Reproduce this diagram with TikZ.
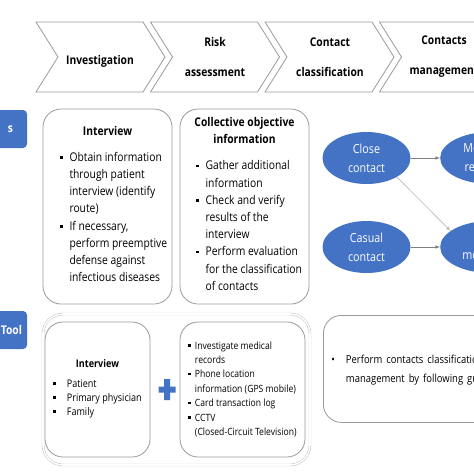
\documentclass[tikz,border=0pt]{standalone}
\usepackage{fontspec}
\setmainfont{Open Sans}[FakeStretch=0.86]
\usetikzlibrary{shapes.geometric}
\definecolor{boxblue}{HTML}{4472C4}
\definecolor{edgegray}{HTML}{9A9A9A}
\newcommand{\sqb}{\raisebox{2.6pt}{\rule{2.6pt}{2.6pt}}}
\begin{document}
\begin{tikzpicture}[x=1pt, y=-1pt,
  chev/.style={draw=edgegray, line width=0.8pt, fill=white},
  chevtext/.style={font=\fontsize{12}{30}\selectfont\bfseries, align=center},
  tag/.style={fill=boxblue, rounded corners=4pt, text=white,
    font=\fontsize{12}{14}\selectfont\bfseries, minimum width=50pt,
    minimum height=38pt, inner sep=0pt, align=right},
  card/.style={draw=edgegray, rounded corners=18pt, line width=0.8pt,
    align=center, font=\fontsize{12}{17.2}\selectfont, inner sep=0pt},
  blob/.style={ellipse, fill=boxblue, text=white, minimum width=88pt,
    minimum height=52pt, align=center, inner sep=0pt,
    font=\fontsize{12.5}{19}\selectfont},
  arr/.style={-latex, draw=gray, line width=0.6pt},
]
\fill[white] (0,0) rectangle (474,474);
\useasboundingbox (0,0) rectangle (474,474);

% steps
\foreach \x in {36, 150.5, 265, 379.5}
  \draw[chev] (\x,22) -- ++(107,0) -- ++(22,35) -- ++(-22,35) -- ++(-107,0) -- ++(22,-35) -- cycle;
\node[chevtext] (invest) at (100,61) {Investigation};
\node[chevtext] (risk) at (215,57) {Risk\\assessment};
\node[chevtext] (classif) at (330,57) {Contact\\classification};
\node[chevtext] (manage) at (444,57) {Contacts\\management};

% row labels
\node[tag, text width=22pt] (procTag) at (2,129) {s};
\node[tag, text width=40pt] (toolTag) at (2,330) {Tool};

% investigation / risk assessment
\node[card, minimum width=129pt, minimum height=195pt] (interview) at (107.5,206.5)
  {\textbf{Interview}\\[13pt]
   \begin{tabular}{@{\hspace{12pt}}l@{\hspace{7pt}}l@{}}
   \sqb & Obtain information\\
       & through patient\\
       & interview (identify\\
       & route)\\
   \sqb & If necessary,\\
       & perform preemptive\\
       & defense against\\
       & infectious diseases
   \end{tabular}};
\node[card, minimum width=129pt, minimum height=195pt] (collect) at (244.5,206.5)
  {\textbf{Collective objective}\\\textbf{information}\\[13pt]
   \begin{tabular}{@{\hspace{9pt}}l@{\hspace{7pt}}l@{}}
   \sqb & Gather additional\\
       & information\\
   \sqb & Check and verify\\
       & results of the\\
       & interview\\
   \sqb & Perform evaluation\\
       & for the classification\\
       & of contacts
   \end{tabular}};

% classification
\node[blob] (close) at (366.5,158) {Close\\contact};
\node[blob] (casual) at (366.5,247) {Casual\\contact};
\node[blob, minimum width=100pt, anchor=west] (restrict) at (440,158) {Movement\\restriction};
\node[blob, minimum width=100pt, anchor=west] (monitor) at (440,247) {Active\\monitoring};
\draw[arr] (close) -- (restrict);
\draw[arr] (casual) -- (monitor);
\draw[arr, draw=gray!55] (close.-32) -- (monitor.158);

% tools
\draw[draw=edgegray!70, double, double distance=1.6pt, rounded corners=20pt]
  (43,314) rectangle (310,465);
\node[card, minimum width=105pt, minimum height=135pt] (tooltalk) at (97.5,389.5)
  {\fontsize{10.5}{14}\selectfont\textbf{Interview}\\[9pt]
   \fontsize{10.5}{14}\selectfont
   \begin{tabular}{@{}l@{\hspace{11pt}}l@{}}
   \sqb & Patient\\
   \sqb & Primary physician\\
   \sqb & Family
   \end{tabular}};
\fill[boxblue] (164,379) rectangle (170,400) (158.5,386.5) rectangle (175.5,392.5);
\node[card, minimum width=125pt, minimum height=135pt] (records) at (242.5,389.5)
  {\fontsize{10}{14.4}\selectfont
   \begin{tabular}{@{}l@{\hspace{4pt}}l@{}}
   \sqb & Investigate medical\\
       & records\\
   \sqb & Phone location\\
       & information (GPS mobile)\\
   \sqb & Card transaction log\\
   \sqb & CCTV\\
       & (Closed-Circuit Television)
   \end{tabular}};

% management
\node[card, minimum width=220pt, minimum height=107pt, text width=204pt, align=left,
  anchor=north west] (guide) at (323,315)
  {\fontsize{11}{19}\selectfont
   \begin{tabular}{@{}l@{\hspace{11pt}}l@{}}
   \textbullet & Perform contacts classification and\\
              & management by following guidelines
   \end{tabular}};
\end{tikzpicture}
\end{document}
